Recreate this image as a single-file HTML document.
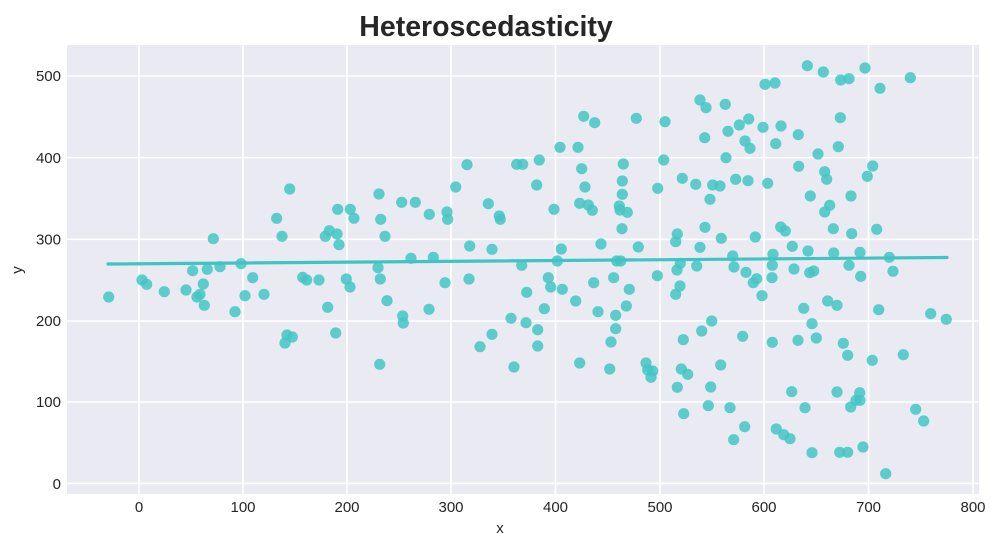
<!DOCTYPE html>
<html><head><meta charset="utf-8"><style>
html,body{margin:0;padding:0;background:#fff;}
svg{display:block;font-family:"Liberation Sans",Arial,sans-serif;}
</style></head><body>
<svg width="1000" height="548" viewBox="0 0 1000 548" xmlns="http://www.w3.org/2000/svg">
<rect x="67" y="45" width="912" height="449" fill="#eaeaf2"/>
<g stroke="#fff" stroke-width="1.6">
<line x1="139" y1="45" x2="139" y2="494"/><line x1="243" y1="45" x2="243" y2="494"/>
<line x1="347" y1="45" x2="347" y2="494"/><line x1="451" y1="45" x2="451" y2="494"/>
<line x1="555.5" y1="45" x2="555.5" y2="494"/><line x1="660" y1="45" x2="660" y2="494"/>
<line x1="764" y1="45" x2="764" y2="494"/><line x1="868.5" y1="45" x2="868.5" y2="494"/>
<line x1="973" y1="45" x2="973" y2="494"/>
<line x1="67" y1="76" x2="979" y2="76"/><line x1="67" y1="157.7" x2="979" y2="157.7"/>
<line x1="67" y1="239.3" x2="979" y2="239.3"/><line x1="67" y1="321" x2="979" y2="321"/>
<line x1="67" y1="402" x2="979" y2="402"/><line x1="67" y1="483.5" x2="979" y2="483.5"/>
</g>
<g fill="#43c6c6" fill-opacity="0.85">
<circle cx="108.7" cy="297" r="5.6"/><circle cx="142" cy="280" r="5.6"/><circle cx="146.7" cy="284.3" r="5.6"/><circle cx="164.3" cy="291.7" r="5.6"/><circle cx="186" cy="290" r="5.6"/><circle cx="192.7" cy="270.7" r="5.6"/><circle cx="197" cy="297" r="5.6"/><circle cx="200" cy="294.3" r="5.6"/><circle cx="203.3" cy="284" r="5.6"/><circle cx="204.3" cy="305.3" r="5.6"/><circle cx="207.3" cy="269.3" r="5.6"/><circle cx="213.3" cy="238.7" r="5.6"/><circle cx="220" cy="266.7" r="5.6"/><circle cx="235" cy="311.7" r="5.6"/><circle cx="241" cy="263.7" r="5.6"/><circle cx="245" cy="295.7" r="5.6"/><circle cx="252.7" cy="277.7" r="5.6"/><circle cx="264" cy="294.3" r="5.6"/><circle cx="276.7" cy="218.3" r="5.6"/><circle cx="282" cy="236.3" r="5.6"/><circle cx="289.7" cy="189" r="5.6"/><circle cx="285" cy="343" r="5.6"/><circle cx="287" cy="335" r="5.6"/><circle cx="292.3" cy="337" r="5.6"/><circle cx="302.7" cy="277.3" r="5.6"/><circle cx="306.7" cy="280" r="5.6"/><circle cx="319" cy="280" r="5.6"/><circle cx="325.3" cy="236.3" r="5.6"/><circle cx="329.3" cy="230.7" r="5.6"/><circle cx="337" cy="234" r="5.6"/><circle cx="339" cy="244.7" r="5.6"/><circle cx="337.7" cy="209.3" r="5.6"/><circle cx="327.7" cy="307.3" r="5.6"/><circle cx="335.7" cy="333" r="5.6"/><circle cx="346.3" cy="279" r="5.6"/><circle cx="350" cy="287" r="5.6"/><circle cx="350.3" cy="209.3" r="5.6"/><circle cx="354" cy="218.3" r="5.6"/><circle cx="379" cy="194" r="5.6"/><circle cx="380.7" cy="219.3" r="5.6"/><circle cx="385" cy="236.3" r="5.6"/><circle cx="378" cy="267.7" r="5.6"/><circle cx="380.3" cy="279" r="5.6"/><circle cx="387" cy="300.7" r="5.6"/><circle cx="379.7" cy="364.3" r="5.6"/><circle cx="401.7" cy="202.3" r="5.6"/><circle cx="415.3" cy="202.3" r="5.6"/><circle cx="411" cy="258.3" r="5.6"/><circle cx="402.7" cy="316" r="5.6"/><circle cx="403.3" cy="323" r="5.6"/><circle cx="429.3" cy="214.3" r="5.6"/><circle cx="433.3" cy="257.3" r="5.6"/><circle cx="429" cy="309.3" r="5.6"/><circle cx="447" cy="212" r="5.6"/><circle cx="447.7" cy="219.3" r="5.6"/><circle cx="455.7" cy="187" r="5.6"/><circle cx="467" cy="164.7" r="5.6"/><circle cx="469.7" cy="246" r="5.6"/><circle cx="469" cy="279" r="5.6"/><circle cx="445" cy="282.7" r="5.6"/><circle cx="480" cy="346.7" r="5.6"/><circle cx="488.3" cy="203.7" r="5.6"/><circle cx="499.3" cy="216" r="5.6"/><circle cx="500.3" cy="219.3" r="5.6"/><circle cx="492" cy="249.3" r="5.6"/><circle cx="492" cy="334.3" r="5.6"/><circle cx="511" cy="318.3" r="5.6"/><circle cx="514" cy="367" r="5.6"/><circle cx="516.7" cy="164.3" r="5.6"/><circle cx="522.7" cy="164.3" r="5.6"/><circle cx="521.7" cy="265.3" r="5.6"/><circle cx="526.7" cy="292.3" r="5.6"/><circle cx="526" cy="322.7" r="5.6"/>
<circle cx="539.3" cy="160" r="5.6"/><circle cx="536.7" cy="185" r="5.6"/><circle cx="554" cy="209.3" r="5.6"/><circle cx="560" cy="147.3" r="5.6"/><circle cx="578" cy="147.3" r="5.6"/><circle cx="583.7" cy="116.3" r="5.6"/><circle cx="594.7" cy="122.7" r="5.6"/><circle cx="581.7" cy="168.7" r="5.6"/><circle cx="585" cy="187" r="5.6"/><circle cx="579.7" cy="203.3" r="5.6"/><circle cx="588.3" cy="205" r="5.6"/><circle cx="592.3" cy="210.3" r="5.6"/><circle cx="623.3" cy="164" r="5.6"/><circle cx="622.3" cy="181" r="5.6"/><circle cx="622.3" cy="194.3" r="5.6"/><circle cx="619.3" cy="206" r="5.6"/><circle cx="620" cy="210" r="5.6"/><circle cx="627.3" cy="212.3" r="5.6"/><circle cx="622" cy="228.7" r="5.6"/><circle cx="636.3" cy="118.3" r="5.6"/><circle cx="665" cy="121.7" r="5.6"/><circle cx="663.7" cy="160" r="5.6"/><circle cx="657.7" cy="188.3" r="5.6"/><circle cx="638.3" cy="247" r="5.6"/><circle cx="601" cy="244" r="5.6"/><circle cx="561.3" cy="249" r="5.6"/><circle cx="557.3" cy="261" r="5.6"/><circle cx="548.3" cy="277.7" r="5.6"/><circle cx="550.7" cy="287" r="5.6"/><circle cx="562.3" cy="289.3" r="5.6"/><circle cx="544.3" cy="308.7" r="5.6"/><circle cx="537.7" cy="329.7" r="5.6"/><circle cx="537.7" cy="346" r="5.6"/><circle cx="575.7" cy="301" r="5.6"/><circle cx="593.7" cy="282.7" r="5.6"/><circle cx="598" cy="311.7" r="5.6"/><circle cx="613.7" cy="277.7" r="5.6"/><circle cx="615.7" cy="315.3" r="5.6"/><circle cx="615.7" cy="328.7" r="5.6"/><circle cx="611" cy="342" r="5.6"/><circle cx="629.3" cy="289.3" r="5.6"/><circle cx="626.3" cy="306" r="5.6"/><circle cx="616.7" cy="261" r="5.6"/><circle cx="620.7" cy="261" r="5.6"/><circle cx="579.7" cy="363" r="5.6"/><circle cx="609.7" cy="369" r="5.6"/><circle cx="646" cy="363" r="5.6"/><circle cx="647.7" cy="370" r="5.6"/><circle cx="652.7" cy="371" r="5.6"/><circle cx="651" cy="377.3" r="5.6"/><circle cx="657.3" cy="275.7" r="5.6"/><circle cx="677.3" cy="234" r="5.6"/><circle cx="675.7" cy="241.7" r="5.6"/><circle cx="680.3" cy="263.3" r="5.6"/><circle cx="677" cy="270" r="5.6"/><circle cx="680" cy="286" r="5.6"/><circle cx="675.7" cy="294.3" r="5.6"/><circle cx="682.3" cy="178.3" r="5.6"/><circle cx="695.7" cy="184.3" r="5.6"/><circle cx="700" cy="100" r="5.6"/><circle cx="706" cy="107.7" r="5.6"/><circle cx="704.7" cy="137.7" r="5.6"/><circle cx="725.3" cy="104.3" r="5.6"/><circle cx="728" cy="131.3" r="5.6"/><circle cx="739.3" cy="125" r="5.6"/><circle cx="748.7" cy="119" r="5.6"/><circle cx="745" cy="141" r="5.6"/><circle cx="750" cy="148.3" r="5.6"/><circle cx="763" cy="127.3" r="5.6"/><circle cx="726" cy="157.7" r="5.6"/><circle cx="712.7" cy="185" r="5.6"/><circle cx="720" cy="186" r="5.6"/><circle cx="710" cy="199.3" r="5.6"/><circle cx="735.7" cy="179.3" r="5.6"/><circle cx="748" cy="180.7" r="5.6"/><circle cx="767.7" cy="183.3" r="5.6"/><circle cx="705" cy="227.3" r="5.6"/><circle cx="700" cy="247.3" r="5.6"/><circle cx="721.3" cy="238.3" r="5.6"/><circle cx="696.7" cy="266" r="5.6"/><circle cx="732.7" cy="256" r="5.6"/><circle cx="734" cy="267" r="5.6"/><circle cx="746" cy="272.3" r="5.6"/><circle cx="755.3" cy="237" r="5.6"/><circle cx="756.7" cy="278.7" r="5.6"/><circle cx="753.3" cy="282.7" r="5.6"/><circle cx="762" cy="295.7" r="5.6"/><circle cx="711.7" cy="321" r="5.6"/><circle cx="701.7" cy="331" r="5.6"/><circle cx="683.3" cy="339.7" r="5.6"/><circle cx="742.7" cy="336.3" r="5.6"/><circle cx="720.7" cy="365" r="5.6"/><circle cx="681.3" cy="369" r="5.6"/><circle cx="687.7" cy="374.3" r="5.6"/><circle cx="677.3" cy="387.3" r="5.6"/><circle cx="710.7" cy="387" r="5.6"/><circle cx="708.3" cy="405.7" r="5.6"/><circle cx="730" cy="407.7" r="5.6"/><circle cx="683.7" cy="413.7" r="5.6"/><circle cx="744.7" cy="426.7" r="5.6"/><circle cx="733.7" cy="439.7" r="5.6"/><circle cx="765" cy="84.3" r="5.6"/><circle cx="775" cy="83" r="5.6"/><circle cx="781" cy="126" r="5.6"/><circle cx="775.7" cy="143.7" r="5.6"/><circle cx="798.3" cy="134.7" r="5.6"/><circle cx="798.7" cy="166.3" r="5.6"/><circle cx="807.3" cy="65.7" r="5.6"/><circle cx="823.3" cy="72" r="5.6"/><circle cx="840.7" cy="80" r="5.6"/><circle cx="849" cy="78.7" r="5.6"/><circle cx="865" cy="68" r="5.6"/><circle cx="880" cy="88.3" r="5.6"/><circle cx="910.3" cy="77.7" r="5.6"/><circle cx="840.3" cy="117.7" r="5.6"/><circle cx="838.3" cy="146.7" r="5.6"/><circle cx="818" cy="154" r="5.6"/><circle cx="824.7" cy="171.7" r="5.6"/><circle cx="826.7" cy="179.3" r="5.6"/><circle cx="810.3" cy="196" r="5.6"/><circle cx="829.7" cy="205.3" r="5.6"/><circle cx="824.7" cy="212" r="5.6"/><circle cx="851" cy="196" r="5.6"/><circle cx="872.7" cy="166" r="5.6"/><circle cx="867.3" cy="176.3" r="5.6"/><circle cx="833.3" cy="228.7" r="5.6"/><circle cx="851.7" cy="233.7" r="5.6"/><circle cx="876.7" cy="229.3" r="5.6"/><circle cx="780.7" cy="227" r="5.6"/><circle cx="785.3" cy="231" r="5.6"/><circle cx="792.3" cy="246.3" r="5.6"/><circle cx="773" cy="254.3" r="5.6"/><circle cx="772.3" cy="265.3" r="5.6"/><circle cx="772" cy="277.7" r="5.6"/><circle cx="794" cy="269" r="5.6"/><circle cx="808" cy="251" r="5.6"/><circle cx="809.7" cy="272.7" r="5.6"/><circle cx="813.7" cy="271" r="5.6"/><circle cx="833.7" cy="253" r="5.6"/><circle cx="860" cy="252.3" r="5.6"/><circle cx="849" cy="265.3" r="5.6"/><circle cx="860.7" cy="276.3" r="5.6"/><circle cx="889.3" cy="257.3" r="5.6"/><circle cx="893" cy="271.3" r="5.6"/><circle cx="803.7" cy="308.3" r="5.6"/><circle cx="827.7" cy="301" r="5.6"/><circle cx="837" cy="305.3" r="5.6"/><circle cx="812" cy="323.7" r="5.6"/><circle cx="798" cy="340.3" r="5.6"/><circle cx="816.3" cy="338" r="5.6"/><circle cx="772.3" cy="342.3" r="5.6"/><circle cx="843.3" cy="343.3" r="5.6"/><circle cx="847.7" cy="355.3" r="5.6"/><circle cx="878.7" cy="309.7" r="5.6"/><circle cx="872.3" cy="360.3" r="5.6"/><circle cx="903.3" cy="354.7" r="5.6"/><circle cx="930.7" cy="313.7" r="5.6"/><circle cx="946.3" cy="319.3" r="5.6"/><circle cx="791.7" cy="391.7" r="5.6"/><circle cx="805" cy="407.7" r="5.6"/><circle cx="837" cy="392" r="5.6"/><circle cx="859.7" cy="392.7" r="5.6"/><circle cx="860" cy="400.3" r="5.6"/><circle cx="856" cy="400.3" r="5.6"/><circle cx="850.7" cy="407" r="5.6"/><circle cx="915.7" cy="409.3" r="5.6"/><circle cx="923.7" cy="421" r="5.6"/><circle cx="776.3" cy="429" r="5.6"/><circle cx="783.7" cy="434.7" r="5.6"/><circle cx="790" cy="438.7" r="5.6"/><circle cx="812" cy="452.7" r="5.6"/><circle cx="839.7" cy="452.3" r="5.6"/><circle cx="847.7" cy="452.3" r="5.6"/><circle cx="863" cy="447" r="5.6"/><circle cx="885.7" cy="473.7" r="5.6"/>
</g>
<line x1="108" y1="264" x2="947" y2="257.5" stroke="#3fc3c3" stroke-width="3.2" stroke-linecap="round"/>
<g font-size="15" fill="#262626" text-anchor="end">
<text x="61" y="81">500</text><text x="61" y="163">400</text><text x="61" y="244.5">300</text>
<text x="61" y="326">200</text><text x="61" y="407">100</text><text x="61" y="489">0</text>
</g>
<g font-size="15" fill="#262626" text-anchor="middle">
<text x="139" y="512">0</text><text x="243" y="512">100</text><text x="347" y="512">200</text>
<text x="451" y="512">300</text><text x="555.5" y="512">400</text><text x="660" y="512">500</text>
<text x="764" y="512">600</text><text x="868.5" y="512">700</text><text x="973" y="512">800</text>
<text x="500" y="533">x</text>
</g>
<text x="22" y="270" font-size="15" fill="#262626" text-anchor="middle" transform="rotate(-90 22 270)">y</text>
<text x="486" y="36" font-size="28.5" font-weight="bold" fill="#262626" text-anchor="middle">Heteroscedasticity</text>
</svg>
</body></html>
